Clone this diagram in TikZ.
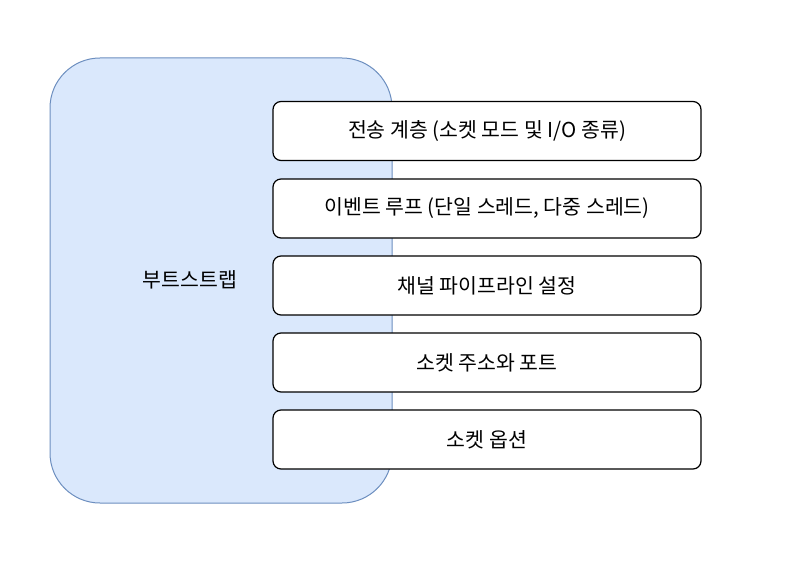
\documentclass[tikz,border=0pt]{standalone}
\usepackage{fontspec}
\setmainfont{Noto Sans CJK KR}
\definecolor{bfill}{HTML}{DAE8FC}
\definecolor{bdraw}{HTML}{6C8EBF}
\begin{document}
\begin{tikzpicture}[x=1pt,y=-1pt,
  item/.style={draw=black,fill=white,rounded corners=8pt,line width=1.2pt,minimum width=428pt,minimum height=59pt,font=\fontsize{20.5}{24}\selectfont,inner sep=0pt},
  big/.style={draw=bdraw,fill=bfill,rounded corners=50pt,line width=1pt,minimum width=342pt,minimum height=445pt}]
\useasboundingbox (0,0) rectangle (800,575);
\node[big] (boot) at (221,280.5) {};
\node[font=\fontsize{20.5}{24}\selectfont] (bootlbl) at (190,280) {부트스트랩};
\node[item] (a) at (487,131) {전송 계층 (소켓 모드 및 I/O 종류)};
\node[item] (b) at (487,208.5) {이벤트 루프 (단일 스레드, 다중 스레드)};
\node[item] (c) at (487,285.5) {채널 파이프라인 설정};
\node[item] (d) at (487,362.5) {소켓 주소와 포트};
\node[item] (e) at (487,439.5) {소켓 옵션};
\end{tikzpicture}
\end{document}
